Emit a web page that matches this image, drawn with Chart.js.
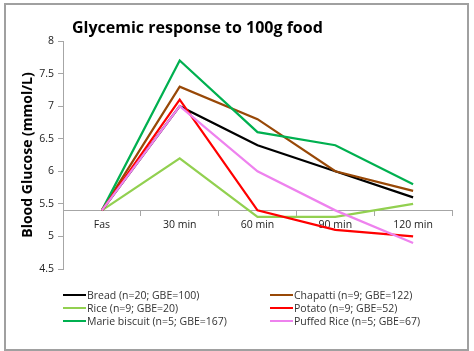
<!DOCTYPE html>
<html>
<head>
<meta charset="utf-8">
<script src="https://cdn.jsdelivr.net/npm/chart.js@4/dist/chart.umd.min.js"></script>
<style>
  body { margin: 0; background: #fff; }
  #wrap { position: relative; width: 474px; height: 351px; }
  #frame { position: absolute; left: 4px; top: 3px; width: 461px; height: 344px; border: 2px solid #a0a0a0; pointer-events: none; }
  #title { position: absolute; left: 72px; top: 16px; font: bold 16px "Open Sans", sans-serif; color: #000; white-space: nowrap; }
  #legend { position: absolute; left: 63px; top: 289px; display: grid; grid-template-columns: 207px 190px; row-gap: 1px; font: 10.5px "Open Sans", sans-serif; color: #333; }
  .item { display: flex; align-items: center; height: 12px; white-space: nowrap; }
  .swatch { width: 23px; height: 2.5px; margin-right: 1px; }
</style>
</head>
<body>
<div id="wrap">
  <canvas id="glycemicChart" width="474" height="351"></canvas>
  <div id="title">Glycemic response to 100g food</div>
  <div id="legend"></div>
  <div id="frame"></div>
</div>
<script>
// categories and series
var timeLabels = ["Fas", "30 min", "60 min", "90 min", "120 min"];
var seriesNames = [
  "Bread (n=20; GBE=100)",
  "Chapatti (n=9; GBE=122)",
  "Rice (n=9; GBE=20)",
  "Potato (n=9; GBE=52)",
  "Marie biscuit (n=5; GBE=167)",
  "Puffed Rice (n=5; GBE=67)",
];
var breadValues = [5.4, 7.0, 6.4, 6.0, 5.6];
var chapattiValues = [5.4, 7.3, 6.8, 6.0, 5.7];
var riceValues = [5.4, 6.2, 5.3, 5.3, 5.5];
var potatoValues = [5.4, 7.1, 5.4, 5.1, 5.0];
var marieValues = [5.4, 7.7, 6.6, 6.4, 5.8];
var puffedValues = [5.4, 7.0, 6.0, 5.4, 4.9];
var seriesColors = ["#000000", "#984807", "#92d050", "#ff0000", "#00b050", "#ee82ee"];

var allValues = [breadValues, chapattiValues, riceValues, potatoValues, marieValues, puffedValues];
var datasets = [];
for (var i = 0; i < allValues.length; i++) {
  datasets.push({
    label: seriesNames[i],
    data: allValues[i],
    borderColor: seriesColors[i],
    backgroundColor: seriesColors[i],
    borderWidth: 2.25,
    pointRadius: 0,
    tension: 0,
  });
}
// draw order: later on top, as in the picture
var drawOrder = [5, 4, 6, 2, 3, 1];
datasets.forEach(function (d, i) { d.order = drawOrder[i]; });

var ctx = document.getElementById("glycemicChart").getContext("2d");
var glycemicChart = new Chart(ctx, {
  type: "line",
  data: { labels: timeLabels, datasets: datasets },
  options: {
    responsive: false,
    animation: false,
    layout: { padding: { left: 20, right: 22, top: 41, bottom: 82 } },
    plugins: {
      legend: { display: false },
      tooltip: { enabled: false },
    },
    scales: {
      x: {
        position: { y: 5.4 },
        offset: true,
        grid: { offset: true, drawOnChartArea: false, drawTicks: true, tickLength: 5, color: "#a6a6a6" },
        border: { color: "#a6a6a6", width: 1 },
        ticks: { color: "#222", font: { family: "Open Sans", size: 10.5 }, padding: 3, maxRotation: 0 },
      },
      y: {
        min: 4.5,
        max: 8,
        ticks: {
          stepSize: 0.5,
          color: "#222",
          font: { family: "Open Sans", size: 10.5 },
          padding: 4,
          callback: function (v) { return String(v); },
        },
        grid: { drawOnChartArea: false, drawTicks: true, tickLength: 5, color: "#a6a6a6" },
        border: { color: "#a6a6a6", width: 1 },
        title: {
          display: true,
          text: "Blood Glucose (mmol/L)",
          color: "#000",
          font: { family: "Open Sans", size: 14, weight: "bold" },
          padding: { top: 0, bottom: 0 },
        },
        afterFit: function (scale) { scale.width = 43; },
      },
    },
  },
});

// legend in two columns, built from the chart's datasets
var legendBox = document.getElementById("legend");
glycemicChart.data.datasets.forEach(function (d) {
  var item = document.createElement("div");
  item.className = "item";
  var sw = document.createElement("span");
  sw.className = "swatch";
  sw.style.background = d.borderColor;
  var tx = document.createElement("span");
  tx.textContent = d.label;
  item.appendChild(sw);
  item.appendChild(tx);
  legendBox.appendChild(item);
});
</script>
</body>
</html>
